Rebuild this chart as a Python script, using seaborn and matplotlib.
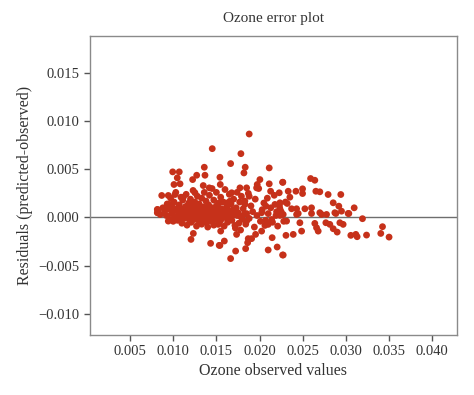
import numpy as np
import pandas as pd
import matplotlib
matplotlib.use("Agg")
import matplotlib.pyplot as plt
import seaborn as sns

# Style
sns.set_theme(style="white")
plt.rcParams['font.family'] = ['Liberation Serif', 'DejaVu Serif']

# Data (both axes in thousandths)
obs_dense = [8.2, 8.2, 8.5, 8.8, 9.0, 9.2, 9.3, 9.5, 9.6, 9.7, 9.8, 9.9, 10.0, 10.0, 10.1, 10.2,
             10.3, 10.4, 10.5, 10.6, 10.7, 10.8, 10.9, 11.0, 11.0, 11.1, 11.2, 11.3, 11.4, 11.5, 11.5,
             11.6, 11.7, 11.8, 11.9, 11.9, 12.0, 12.0,
             12.1, 12.2, 12.2, 12.3, 12.4, 12.5, 12.5, 12.6, 12.7, 12.7, 12.8, 12.9, 13.0, 13.0, 13.1,
             13.2, 13.3, 13.3, 13.4, 13.5, 13.5, 13.6, 13.7, 13.8, 13.8, 13.9, 14.0, 14.0,
             14.1, 14.2, 14.2, 14.3, 14.4, 14.5, 14.5, 14.6, 14.7, 14.7, 14.8, 14.9, 15.0, 15.0, 15.1,
             15.2, 15.3, 15.3, 15.4, 15.5, 15.5, 15.6, 15.7, 15.8, 15.9, 15.9, 16.0,
             16.1, 16.2, 16.3, 16.4, 16.5, 16.6, 16.7, 16.8, 16.9, 17.0, 17.1, 17.2, 17.3, 17.4, 17.5,
             17.6, 17.7, 17.8, 17.9, 18.0,
             18.1, 18.3, 18.4, 18.5, 18.7, 18.8, 19.0, 19.2, 19.4, 19.5, 19.7, 19.9, 20.1, 20.3, 20.5,
             20.7, 20.9, 21.0, 21.3, 21.5, 21.7, 21.9, 22.1, 22.3, 22.5, 22.8, 23.0,
             12.8, 13.2, 13.6, 14.0, 14.4, 14.8, 15.2, 15.6, 16.0, 16.4, 13.0, 14.6, 15.8, 12.4, 11.2,
             10.8, 17.0, 17.4, 18.2, 11.6, 12.6, 13.9, 15.1, 16.2]
res_dense = [0.8, 0.5, 0.3, 1.0, 0.6, 0.2, 1.4, 0.9, -0.2, 2.0, 0.4, 1.1, -0.4, 0.7, 1.6, 0.1,
             2.6, 0.9, -0.3, 0.5, 1.3, 0.0, 2.1, -0.6, 0.8, 1.8, 0.3, -0.1, 1.1, 0.6, 2.4,
             -0.8, 0.2, 1.5, -0.3, 0.9, 0.4, 1.9,
             -0.5, 1.2, 0.0, 2.8, 0.7, -0.2, 1.6, 0.3, -0.9, 1.0, 2.2, 0.5, -0.4, 1.4, 0.1,
             0.8, -0.7, 2.0, 0.4, 1.1, -0.1, 2.6, 0.6, -0.5, 1.7, 0.2, 0.9, -1.0,
             1.3, 0.0, 2.3, 0.6, -0.4, 1.0, 3.0, 0.3, -0.8, 1.8, 0.5, -0.2, 1.2, 2.6, 0.1,
             0.8, -0.6, 1.5, 0.4, 2.1, -0.3, 0.9, 0.0, 1.6, -0.9, 0.6, 2.9,
             0.2, 1.1, -0.5, 0.7, 2.4, 0.0, 1.4, -0.3, 0.8, 1.9, 0.3, -1.1, 1.0, 2.6, 0.5,
             -0.6, 1.6, 0.1, 2.2, -0.2,
             0.9, 1.7, -0.7, 0.4, 2.5, -0.1, 1.2, 0.6, -1.0, 1.9, 0.2, 3.0, -0.4, 0.8, 1.5,
             -0.3, 2.0, 0.4, 1.0, -0.5, 2.3, 0.2, -0.9, 1.2, 0.6, -0.4, 1.6,
             0.2, 0.4, 0.0, 0.4, 0.2, 0.9, 0.3, 0.5, 0.0, 0.3, 0.7, 0.7, 0.2, 0.1, 0.5,
             0.4, 0.6, 0.2, 0.3, 1.2, 1.4, 1.0, 1.0, 1.5]

obs_upper = [18.8, 17.84, 16.65, 18.34, 18.19, 21.12, 15.41, 15.45, 20.04, 19.73, 21.12, 22.7,
             19.66, 21.28, 22.28, 20.74, 17.73, 18.5, 18.8, 18.3, 16.77, 16.57, 21.78, 21.97,
             20.24, 22.74, 14.52, 9.94, 10.7, 10.47, 10.09, 10.79, 13.6, 13.68, 12.72, 12.25,
             13.48, 14.18, 8.67, 9.43, 10.21, 11.17, 8.16, 8.16, 12.52, 9.63, 11.94]
res_upper = [8.66, 6.62, 5.59, 5.21, 4.62, 5.14, 4.17, 3.42, 3.93, 3.42, 3.49, 3.65,
             3.07, 2.72, 2.56, 1.17, 3.07, 3.07, 2.2, 1.35, 2.56, 1.69, 1.35, 0.59,
             0.49, 0.31, 7.14, 4.73, 4.73, 4.11, 3.42, 3.49, 5.21, 4.38, 4.38, 3.93,
             3.31, 3.07, 2.28, 2.28, 2.38, 2.1, 0.83, 0.49, 2.56, 1.35, 1.52]

obs_lower = [9.43, 12.33, 12.06, 14.33, 15.33, 15.5, 15.92, 15.41, 17.23, 16.65, 18.39, 18.62,
             18.69, 19.08, 19.54, 20.24, 21.0, 22.04, 22.74, 21.46, 17.34, 17.15, 17.8, 18.5,
             20.62, 21.0, 21.4, 15.22, 16.37]
res_lower = [-0.38, -1.66, -2.28, -2.69, -2.9, -1.42, -2.45, -2.9, -3.49, -4.27, -3.24, -2.62,
             -2.2, -2.2, -1.76, -1.42, -3.38, -3.07, -3.9, -2.1, -1.76, -0.83, -1.31, -0.38,
             -0.83, -0.72, -0.21, -0.72, -0.21]

obs_right = [25.91, 26.4, 22.67, 23.32, 24.21, 24.98, 24.98, 26.52, 26.98, 27.94, 29.41, 23.51,
             23.2, 28.53, 29.18, 30.96, 29.49, 30.34, 23.71, 24.29, 25.25, 26.02, 24.48, 26.98,
             27.76, 28.72, 22.36, 22.36,
             23.06, 23.9, 24.87, 22.67, 30.57, 31.15, 31.3, 32.39, 34.04, 34.24, 35.0, 31.92,
             23.13, 24.67, 26.4, 26.6, 26.79, 28.14, 28.53, 28.99, 29.3, 29.68, 27.68, 28.84,
             30.26, 27.18, 26.02, 24.29, 22.36]
res_right = [4.04, 3.86, 3.65, 2.72, 2.72, 2.97, 2.48, 2.72, 2.66, 2.38, 2.38, 2.1,
             1.45, 1.52, 1.17, 1.0, 0.65, 0.41, 0.9, 0.9, 0.9, 1.0, 0.41, 0.49,
             0.31, 0.49, 1.52, 0.9,
             -1.86, -1.76, -1.42, -3.9, -1.86, -1.76, -2.0, -1.83, -1.66, -0.96, -2.04, -0.13,
             -0.38, -0.55, -0.62, -1.07, -1.42, -0.72, -1.17, -1.52, -0.55, -0.72, -0.55, 0.41,
             0.41, 0.31, 0.41, 0.31, 0.21]

observed = np.array(obs_dense + obs_upper + obs_lower + obs_right) / 1000
residuals = np.array(res_dense + res_upper + res_lower + res_right) / 1000
df = pd.DataFrame({'observed': observed, 'residual': residuals})

# Plot
fig = plt.figure(figsize=(4.74, 3.95), dpi=100)
ax = fig.add_axes([0.19, 0.152, 0.774, 0.757])
ax.axhline(0, color='#6e6e6e', lw=1.0, zorder=1)
sns.scatterplot(x='observed', y='residual', data=df, ax=ax, color='#c6311a',
                s=24, edgecolor='none', linewidth=0, zorder=2)

ax.set_xlim(0.00037, 0.04286)
ax.set_ylim(-0.0122, 0.01884)
ax.set_xticks([0.005, 0.010, 0.015, 0.020, 0.025, 0.030, 0.035, 0.040])
ax.set_yticks([-0.010, -0.005, 0.000, 0.005, 0.010, 0.015])
ax.xaxis.set_major_formatter(matplotlib.ticker.FormatStrFormatter('%.3f'))
ax.yaxis.set_major_formatter(matplotlib.ticker.FuncFormatter(
    lambda v, p: f"{v:.3f}".replace('-', '\u2212') if abs(v) > 1e-9 else "0.000"))

for sp in ax.spines.values():
    sp.set_color('#8a8a8a')
    sp.set_linewidth(1.0)
ax.tick_params(axis='both', which='both', direction='out', length=4, width=1,
               color='#555555', labelsize=10.5, labelcolor='#333333', left=True, bottom=True)

ax.set_title('Ozone error plot', fontsize=11, color='#333333', pad=10)
ax.set_xlabel('Ozone observed values', fontsize=11.5, color='#333333', labelpad=3)
ax.set_ylabel('Residuals (predicted-observed)', fontsize=11.5, color='#333333', labelpad=4)

fig.savefig('out.png', dpi=100)
plt.close(fig)
